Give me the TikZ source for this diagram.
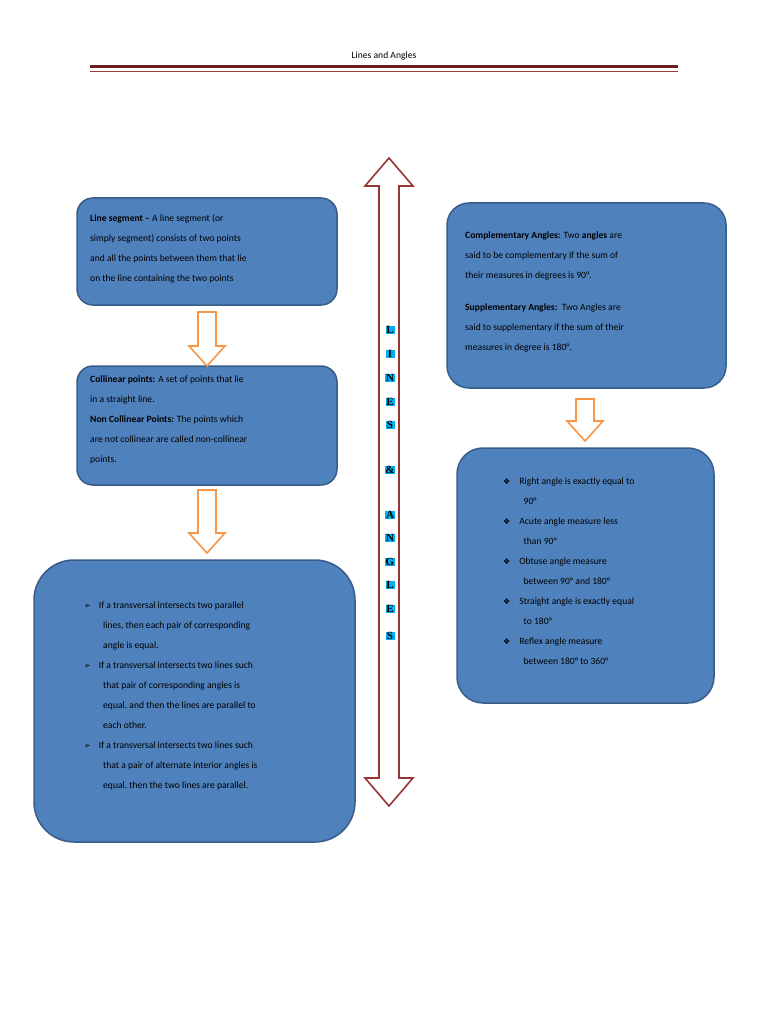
\documentclass[tikz,border=0pt]{standalone}
\usepackage{fontspec}
\setmainfont{Carlito}
\newfontfamily\symf{DejaVu Sans}
\newfontfamily\serf{Liberation Serif}
\definecolor{hdrdark}{RGB}{110,30,30}
\definecolor{hdrlight}{RGB}{150,60,60}
\definecolor{boxblue}{RGB}{79,129,189}
\definecolor{boxedge}{RGB}{56,93,138}
\definecolor{arrorange}{RGB}{247,150,70}
\definecolor{arrred}{RGB}{149,55,53}
\begin{document}
\begin{tikzpicture}[x=1pt,y=-1pt,
  bluebox/.style={draw=boxedge,line width=1.5pt,fill=boxblue,rounded corners=16pt},
  downarrow/.style={draw=arrorange,line width=1.6pt,fill=white,line join=miter},
  txt/.style={anchor=north west,inner sep=0,align=left,font=\fontsize{9.6}{20}\selectfont},
  letter/.style={fill=cyan,inner sep=0.6pt,font=\serf\bfseries\fontsize{11}{12}\selectfont,minimum width=9pt}]
\useasboundingbox (0,0) rectangle (768,1024);
\node (title) at (384,56) {\fontsize{9.6}{11}\selectfont Lines and Angles};
\draw[line width=3pt,hdrdark] (90,67) -- (678,67);
\draw[line width=0.8pt,hdrlight] (90,71.5) -- (678,71.5);
% boxes
\draw[bluebox] (77,198) rectangle (337,305);
\draw[bluebox] (77,366) rectangle (337,485);
\draw[bluebox,rounded corners=40pt] (34,560) rectangle (355,842);
\draw[bluebox,rounded corners=22pt] (447,203) rectangle (726,388);
\draw[bluebox,rounded corners=26pt] (457,448) rectangle (714,703);
% down arrows
\newcommand\dnarrow[3]{\draw[downarrow] (#1-9,#2) -- (#1+9,#2) -- (#1+9,#3-20) -- (#1+18,#3-20) -- (#1,#3) -- (#1-18,#3-20) -- (#1-9,#3-20) -- cycle;}
\dnarrow{207}{312}{366}
\dnarrow{207}{490}{553}
\dnarrow{585}{399}{441}
% double arrow
\draw[draw=arrred,line width=1.6pt,fill=white,line join=miter]
 (389,158) -- (413,186) -- (399,186) -- (399,778) -- (413,778) -- (389,806) -- (365,778) -- (379,778) -- (379,186) -- (365,186) -- cycle;
\foreach \l/\y [count=\i] in {L/330,I/354,N/378,E/402,S/425,\&/470,A/515,N/538,G/562,L/585,E/609,S/636}
  \node[letter] (v\i) at (390,\y) {\l};
% texts
\node[txt] (t1) at (90,214) {\textbf{Line segment –} A line segment (or\\simply segment) consists of two points\\and all the points between them that lie\\on the line containing the two points};
\node[txt] (t2) at (90,376) {\textbf{Collinear points:} A set of points that lie\\in a straight line.\\\textbf{Non Collinear Points:} The points which\\are not collinear are called non-collinear\\points.};
\node[txt] (t3) at (84,602) {{\symf\fontsize{8}{20}\selectfont ➢}\hspace{8pt}If a transversal intersects two parallel\\\hspace{19pt}lines, then each pair of corresponding\\\hspace{19pt}angle is equal.\\{\symf\fontsize{8}{20}\selectfont ➢}\hspace{8pt}If a transversal intersects two lines such\\\hspace{19pt}that pair of corresponding angles is\\\hspace{19pt}equal, and then the lines are parallel to\\\hspace{19pt}each other.\\{\symf\fontsize{8}{20}\selectfont ➢}\hspace{8pt}If a transversal intersects two lines such\\\hspace{19pt}that a pair of alternate interior angles is\\\hspace{19pt}equal, then the two lines are parallel.};
\node[txt] (t4) at (465,232) {\textbf{Complementary Angles:} Two \textbf{angles} are\\said to be complementary if the sum of\\their measures in degrees is 90°.};
\node[txt] (t5) at (465,304) {\textbf{Supplementary Angles:}\, Two Angles are\\said to supplementary if the sum of their\\measures in degree is 180°.};
\node[txt] (t6) at (503,478) {{\symf\fontsize{8}{20}\selectfont ❖}\hspace{9pt}Right angle is exactly equal to\\\hspace{20.5pt}90°\\{\symf\fontsize{8}{20}\selectfont ❖}\hspace{9pt}Acute angle measure less\\\hspace{20.5pt}than 90°\\{\symf\fontsize{8}{20}\selectfont ❖}\hspace{9pt}Obtuse angle measure\\\hspace{20.5pt}between 90° and 180°\\{\symf\fontsize{8}{20}\selectfont ❖}\hspace{9pt}Straight angle is exactly equal\\\hspace{20.5pt}to 180°\\{\symf\fontsize{8}{20}\selectfont ❖}\hspace{9pt}Reflex angle measure\\\hspace{20.5pt}between 180° to 360°};
\end{tikzpicture}
\end{document}
